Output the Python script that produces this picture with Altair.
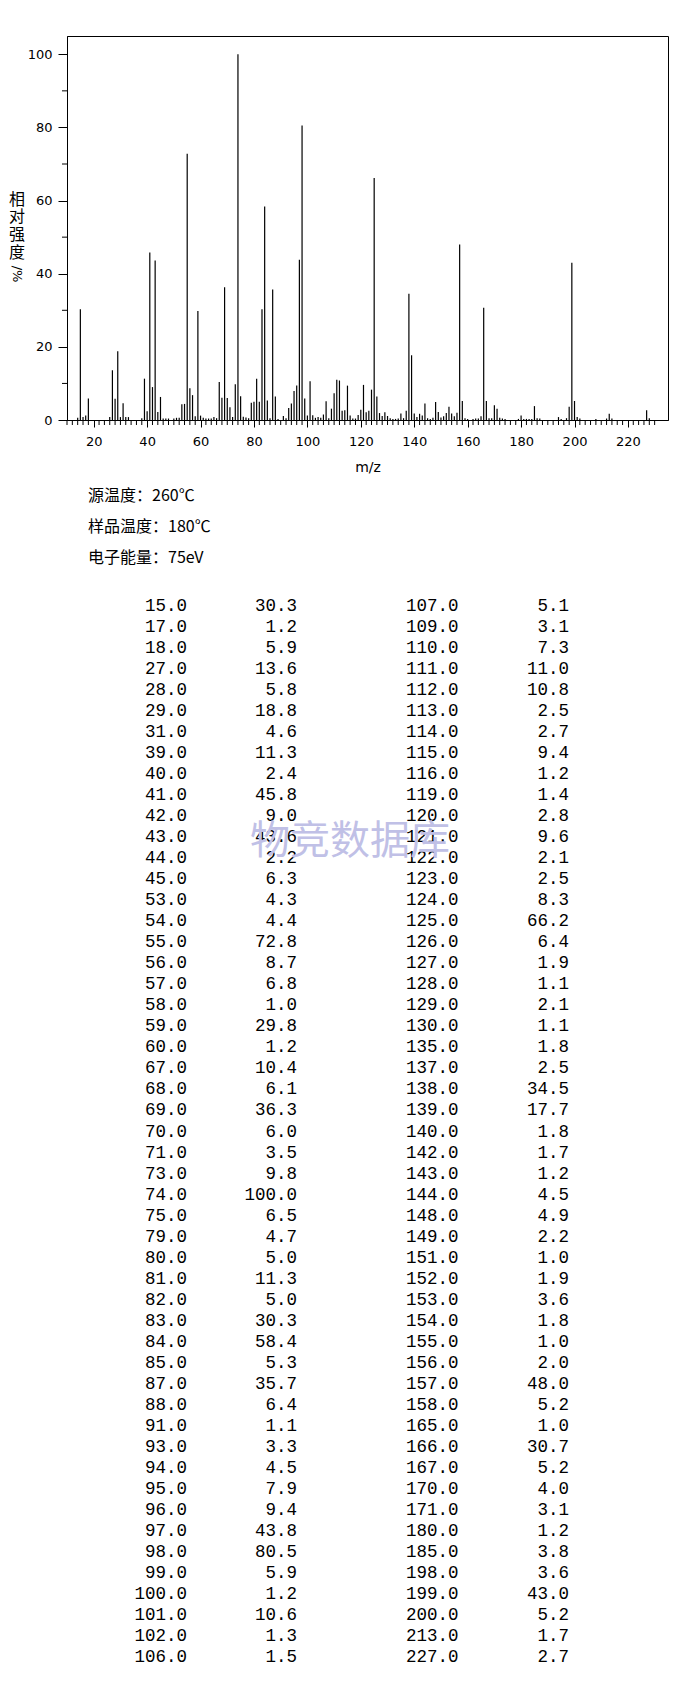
import altair as alt
import pandas as pd

# ---- data ----
mz_left = [15, 17, 18, 27, 28, 29, 31, 39, 40, 41, 42, 43, 44, 45, 53, 54, 55, 56, 57, 58,
           59, 60, 67, 68, 69, 70, 71, 73, 74, 75, 79, 80, 81, 82, 83, 84, 85, 87, 88, 91,
           93, 94, 95, 96, 97, 98, 99, 100, 101, 102, 106]
int_left = [30.3, 1.2, 5.9, 13.6, 5.8, 18.8, 4.6, 11.3, 2.4, 45.8, 9.0, 43.6, 2.2, 6.3, 4.3, 4.4,
            72.8, 8.7, 6.8, 1.0, 29.8, 1.2, 10.4, 6.1, 36.3, 6.0, 3.5, 9.8, 100.0, 6.5, 4.7, 5.0,
            11.3, 5.0, 30.3, 58.4, 5.3, 35.7, 6.4, 1.1, 3.3, 4.5, 7.9, 9.4, 43.8, 80.5, 5.9, 1.2,
            10.6, 1.3, 1.5]
mz_right = [107, 109, 110, 111, 112, 113, 114, 115, 116, 119, 120, 121, 122, 123, 124, 125, 126,
            127, 128, 129, 130, 135, 137, 138, 139, 140, 142, 143, 144, 148, 149, 151, 152, 153,
            154, 155, 156, 157, 158, 165, 166, 167, 170, 171, 180, 185, 198, 199, 200, 213, 227]
int_right = [5.1, 3.1, 7.3, 11.0, 10.8, 2.5, 2.7, 9.4, 1.2, 1.4, 2.8, 9.6, 2.1, 2.5, 8.3, 66.2,
             6.4, 1.9, 1.1, 2.1, 1.1, 1.8, 2.5, 34.5, 17.7, 1.8, 1.7, 1.2, 4.5, 4.9, 2.2, 1.0,
             1.9, 3.6, 1.8, 1.0, 2.0, 48.0, 5.2, 1.0, 30.7, 5.2, 4.0, 3.1, 1.2, 3.8, 3.6, 43.0,
             5.2, 1.7, 2.7]
# small peaks visible in the spectrum but not listed in the table (estimated)
minor_mz = [14, 16, 26, 30, 32, 33, 38, 46, 47, 48, 50, 51, 52, 61, 62, 63, 64, 65, 66, 72, 76,
            77, 78, 86, 89, 92, 103, 104, 105, 108, 117, 118, 131, 132, 133, 134, 136, 141, 145,
            146, 147, 150, 159, 160, 162, 163, 164, 168, 169, 172, 173, 174, 179, 181, 182, 183,
            184, 186, 187, 194, 195, 197, 201, 202, 208, 212, 214, 228]
minor_int = [0.6, 0.8, 0.8, 0.8, 0.8, 0.8, 0.5, 0.4, 0.4, 0.4, 0.4, 0.6, 0.6, 0.6, 0.4, 0.4, 0.4,
             0.8, 0.5, 0.8, 0.9, 0.7, 0.5, 0.5, 0.3, 0.5, 0.6, 0.8, 0.6, 0.5, 0.4, 0.4, 0.5, 0.3,
             0.3, 0.4, 0.5, 0.8, 0.5, 0.3, 0.6, 0.7, 0.5, 0.3, 0.3, 0.4, 0.4, 0.5, 0.5, 0.6, 0.4,
             0.3, 0.3, 0.3, 0.3, 0.3, 0.3, 0.5, 0.4, 0.8, 0.3, 0.5, 0.8, 0.4, 0.3, 0.4, 0.4, 0.5]

x_major = list(range(20, 221, 20))
x_minor = [v for v in range(10, 231, 2) if v % 20 != 0]
y_major = [0, 20, 40, 60, 80, 100]
y_minor = [10, 30, 50, 70, 90]

y_title_chars = ["相", "对", "强", "度"]
y_title_unit = "/%"
x_title = "m/z"
info_lines = ["源温度：260℃", "样品温度：180℃", "电子能量：75eV"]
watermark = "物竞数据库"

# ---- layout constants ----
W = 601
H1 = 384
T2 = 486  # expected absolute top of second panel
H2 = 1185

peaks = pd.DataFrame({"mz": mz_left + mz_right + minor_mz,
                      "inten": int_left + int_right + minor_int})
xs = alt.Scale(domain=[10, 235], nice=False, zero=False)
ys = alt.Scale(domain=[0, 105], nice=False)

xaxis = alt.Axis(values=x_major, title=x_title, tickSize=7, labelPadding=8,
                 titlePadding=12, titleFontSize=14, titleFontWeight="normal",
                 titleFont="DejaVu Sans", labelFontSize=13, labelFont="DejaVu Sans")
yaxis = alt.Axis(values=y_major, title=None, tickSize=9, labelPadding=6,
                 labelFontSize=13, labelFont="DejaVu Sans")

sticks = alt.Chart(peaks).mark_rule(color="black", strokeWidth=1.2).encode(
    x=alt.X("mz:Q", scale=xs, axis=xaxis),
    y=alt.Y("inten:Q", scale=ys, axis=yaxis),
    y2=alt.datum(0),
)

xmin_df = pd.DataFrame({"mz": x_minor})
xminor = alt.Chart(xmin_df).mark_rule(color="black", strokeWidth=1).encode(
    x=alt.X("mz:Q", scale=xs, axis=xaxis),
    y=alt.value(H1), y2=alt.value(H1 + 5),
)
ymin_df = pd.DataFrame({"inten": y_minor})
yminor = alt.Chart(ymin_df).mark_rule(color="black", strokeWidth=1).encode(
    y=alt.Y("inten:Q", scale=ys, axis=yaxis),
    x=alt.value(0), x2=alt.value(-5),
)

ytitle = alt.Chart(pd.DataFrame({"a": [0]})).mark_text(
    text=y_title_chars, font="Noto Sans CJK SC", fontSize=16, lineHeight=17.8,
    baseline="top", align="center", color="black"
).encode(x=alt.value(-50), y=alt.value(155.5))
yunit = alt.Chart(pd.DataFrame({"a": [0]})).mark_text(
    text=y_title_unit, font="DejaVu Sans", fontSize=13, angle=90,
    baseline="middle", align="center", color="black"
).encode(x=alt.value(-50), y=alt.value(238))

panel1 = alt.layer(sticks, xminor, yminor, ytitle, yunit).properties(
    width=W, height=H1, view=alt.ViewBackground(stroke="black", strokeWidth=1)
)

# ---- second panel: conditions and peak table ----
info_df = pd.DataFrame({"line": list(range(len(info_lines))), "txt": info_lines})
info = alt.Chart(info_df).mark_text(
    align="left", baseline="middle", font="Noto Sans CJK SC", fontSize=16, color="black"
).encode(
    x=alt.value(21),
    y=alt.Y("line:Q", scale=alt.Scale(domain=[0, 2], range=[496 - T2, 558 - T2]), axis=None),
    text="txt:N",
)

n = len(mz_left)
tab_df = pd.DataFrame({
    "row": list(range(n)),
    "a": [f"{v:.1f}" for v in mz_left],
    "b": [f"{v:.1f}" for v in int_left],
    "c": [f"{v:.1f}" for v in mz_right],
    "d": [f"{v:.1f}" for v in int_right],
})
yrow = alt.Y("row:Q", scale=alt.Scale(domain=[0, n - 1], range=[606 - T2, 1657 - T2]), axis=None)
tbase = alt.Chart(tab_df).mark_text(
    align="right", baseline="middle", font="Liberation Mono", fontSize=17.5, color="black"
)
cols = [tbase.encode(x=alt.value(xp), y=yrow, text=f"{c}:N")
        for c, xp in zip(["a", "b", "c", "d"], [120, 230, 391.5, 502])]

wm = alt.Chart(pd.DataFrame({"a": [0]})).mark_text(
    text=watermark, font="Noto Sans CJK SC", fontSize=40, color="#c0c0e6",
    align="center", baseline="middle"
).encode(x=alt.value(283), y=alt.value(842 - T2))

panel2 = alt.layer(info, *cols, wm).resolve_scale(y="independent").properties(
    width=W, height=H2, view=alt.ViewBackground(stroke="transparent")
)

chart = alt.vconcat(panel1, panel2, spacing=10).properties(
    padding={"left": 0, "top": 27, "right": 5, "bottom": 5}
).configure_axis(
    domainColor="black", tickColor="black", labelColor="black", titleColor="black",
    grid=False, domainWidth=1, tickWidth=1
).configure_view(stroke="transparent")

chart.save("out.html", embed_options={"renderer": "svg", "actions": False})
